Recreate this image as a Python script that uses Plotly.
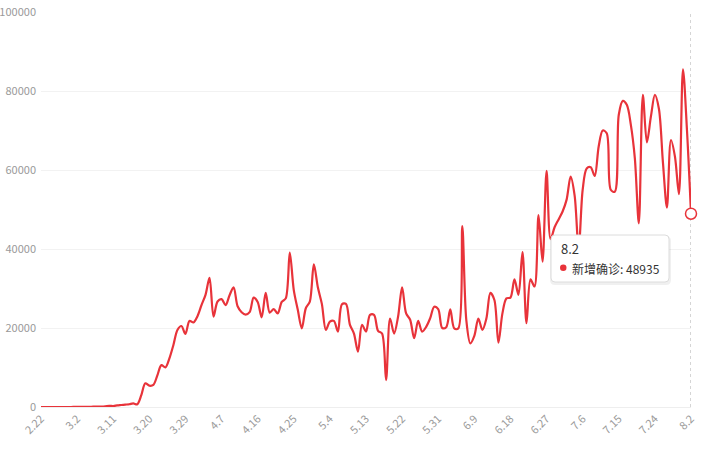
import datetime as dt
import plotly.graph_objects as go

# ---- data ----
start = dt.date(2020, 2, 22)
dates = [(start + dt.timedelta(days=i)) for i in range(163)]
categories = [f"{d.month}.{d.day}" for d in dates]

new_cases = [
    0, 0, 0, 0, 0, 1, 2, 5, 8, 20,
    24, 30, 50, 70, 100, 120, 180, 290, 250, 400,
    500, 600, 700, 900, 700, 3000, 6000, 5400, 5600, 8000,
    10600, 10000, 12300, 15700, 19500, 20500, 18500, 21800, 21400, 23000,
    25800, 28400, 32700, 22900, 26700, 27300, 25800, 28300, 30300, 25500,
    24000, 23400, 24000, 27700, 26600, 22700, 28900, 23900, 24800, 23700,
    26600, 27500, 39100, 29600, 24600, 19900, 25000, 26700, 36100, 30300,
    26100, 19500, 21600, 21800, 19100, 26000, 26100, 20800, 18600, 14000,
    20800, 19100, 23300, 23300, 19300, 18600, 6800, 22400, 18600, 22900,
    30300, 23700, 22100, 17400, 21800, 19100, 20300, 22500, 25400, 24800,
    20000, 20200, 24700, 19900, 19900, 45800, 22000, 16100, 18000, 22400,
    19500, 22400, 28900, 27100, 16300, 23700, 27500, 27700, 32300, 28400,
    39200, 21200, 32300, 30500, 48600, 36800, 59800, 42500, 45500, 47500,
    49500, 52500, 58300, 53500, 40000, 55000, 60400, 60700, 58500, 66000,
    70000, 69300, 55000, 54500, 74000, 77500, 76500, 71500, 63000, 46500,
    79000, 67000, 73500, 79000, 75500, 62000, 50500, 67600, 63400, 53900,
    85500, 70000, 48935,
]

series_name = "新增确诊"
tick_labels = categories[::9]
y_ticks = [0, 20000, 40000, 60000, 80000, 100000]

RED = "#e8333a"
GRAY_TXT = "#9a9a9a"
FONT = "Noto Sans CJK SC, Noto Sans, sans-serif"

L, R, T, B = 41, 21, 12, 46
W, H = 712, 453
pw, ph = W - L - R, H - T - B


def px(x):
    return (x - L) / pw


def py(y):
    return (H - B - y) / ph


fig = go.Figure()
fig.add_trace(go.Scatter(
    x=categories, y=new_cases, mode="lines", name=series_name,
    line=dict(color=RED, width=2.2, shape="spline", smoothing=0.9),
    hoverinfo="skip",
))
# highlighted last point
fig.add_trace(go.Scatter(
    x=[categories[-1]], y=[new_cases[-1]], mode="markers",
    marker=dict(size=11, color="white", line=dict(color=RED, width=1.5)),
    hoverinfo="skip", cliponaxis=False,
))

last_idx = len(categories) - 1
fig.add_shape(type="line", xref="x", yref="paper",
              x0=last_idx, x1=last_idx, y0=0, y1=1,
              line=dict(color="#aaaaaa", width=1, dash="dot"), layer="below")


# tooltip box (rounded rect via path)
def rounded_path(x0, y0, x1, y1, r):
    X0, X1 = px(x0), px(x1)
    Y0, Y1 = py(y0), py(y1)  # y0 top (pixel), y1 bottom
    rx, ry = r / pw, r / ph
    return (f"M {X0+rx},{Y0} L {X1-rx},{Y0} Q {X1},{Y0} {X1},{Y0-ry} "
            f"L {X1},{Y1+ry} Q {X1},{Y1} {X1-rx},{Y1} "
            f"L {X0+rx},{Y1} Q {X0},{Y1} {X0},{Y1+ry} "
            f"L {X0},{Y0-ry} Q {X0},{Y0} {X0+rx},{Y0} Z")


bx0, by0, bx1, by1 = 551, 235, 669, 282
# soft shadow
fig.add_shape(type="path", xref="paper", yref="paper",
              path=rounded_path(bx0 - 1, by0 + 1, bx1 + 2, by1 + 3, 5),
              fillcolor="rgba(0,0,0,0.06)", line=dict(width=0))
fig.add_shape(type="path", xref="paper", yref="paper",
              path=rounded_path(bx0, by0, bx1, by1, 4),
              fillcolor="white", line=dict(color="#dcdcdc", width=1))
# red dot
fig.add_shape(type="circle", xref="paper", yref="paper",
              x0=px(560), x1=px(566.5), y0=py(271), y1=py(264.5),
              fillcolor=RED, line=dict(width=0))

fig.add_annotation(xref="paper", yref="paper", x=px(559), y=py(248),
                   xanchor="left", yanchor="middle", showarrow=False,
                   text=categories[-1],
                   font=dict(family=FONT, size=13, color="#333333"))
fig.add_annotation(xref="paper", yref="paper", x=px(570), y=py(268),
                   xanchor="left", yanchor="middle", showarrow=False,
                   text=f"{series_name}: {new_cases[-1]}",
                   font=dict(family=FONT, size=12, color="#333333"))

fig.update_layout(
    width=W, height=H,
    margin=dict(l=L, r=R, t=T, b=B, pad=0),
    paper_bgcolor="white", plot_bgcolor="white",
    showlegend=False,
    font=dict(family=FONT, size=11, color=GRAY_TXT),
    xaxis=dict(
        type="category", range=[0, last_idx], automargin=False,
        tickmode="array", tickvals=tick_labels, ticktext=tick_labels,
        tickangle=-45, tickfont=dict(size=11, color=GRAY_TXT),
        showgrid=False, showline=True, linecolor="#eeeeee", ticks="",
        zeroline=False,
    ),
    yaxis=dict(
        range=[0, 100000], tickvals=y_ticks, ticktext=[str(v) for v in y_ticks],
        automargin=False,
        showgrid=True, gridcolor="#f2f2f2", gridwidth=1,
        zeroline=False, showline=False, ticks="",
        tickfont=dict(size=11, color=GRAY_TXT),
        ticklabelstandoff=4,
    ),
)

fig.write_html("out.html")
